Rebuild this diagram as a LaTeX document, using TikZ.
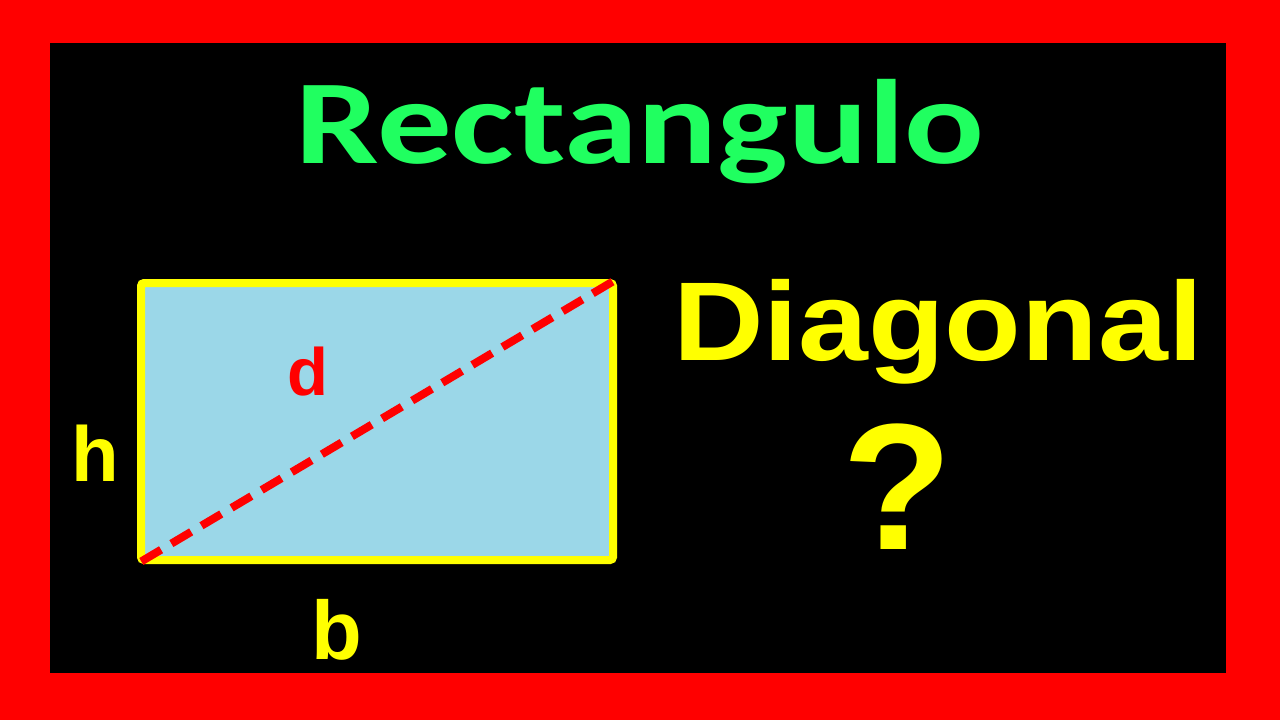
\documentclass[tikz,border=0pt]{standalone}
\usepackage{fontspec}
\setmainfont{Liberation Sans}
\newfontfamily\titlefont{Carlito}
\definecolor{titlegreen}{RGB}{32,255,96}
\definecolor{boxblue}{RGB}{155,215,232}
\definecolor{hotred}{RGB}{255,0,0}
\definecolor{signyellow}{RGB}{255,255,0}
\begin{document}
\begin{tikzpicture}[x=1pt,y=-1pt,
    label/.style={text=signyellow,font=\bfseries,anchor=base,inner sep=0pt},
    diag/.style={hotred,line width=8pt,dash pattern=on 23pt off 12pt}]
  \def\W{1280}
  \def\H{720}
  \useasboundingbox (0,0) rectangle (\W,\H);

  %%% frame
  \fill[hotred] (0,0) rectangle (\W,\H);
  \fill[black] (50,43) rectangle (1226,673);

  %%% title
  \node[label,text=titlegreen,font=\titlefont\bfseries\fontsize{120}{130}\selectfont,xscale=1.24]
    (title) at (640,163) {Rectangulo};

  %%% rectangle
  \node[draw=signyellow,fill=boxblue,line width=8pt,rounded corners=3pt,
    minimum width=472pt,minimum height=277pt] (rect) at (377,421.5) {};
  \draw[diag,shorten <=5pt,shorten >=5pt] (rect.south west) -- (rect.north east);
  \node[label,text=hotred,font=\bfseries\fontsize{67}{70}\selectfont] (d) at (308,395) {d};
  \node[label,font=\bfseries\fontsize{78}{90}\selectfont] (h) at (95,481) {h};
  \node[label,font=\bfseries\fontsize{83}{90}\selectfont] (b) at (337,659) {b};

  %%% question
  \node[label,font=\bfseries\fontsize{112}{120}\selectfont,xscale=1.12]
    (diagonal) at (938,360) {Diagonal};
  \node[label,font=\bfseries\fontsize{180}{190}\selectfont] (ask) at (897,549) {?};
\end{tikzpicture}
\end{document}
